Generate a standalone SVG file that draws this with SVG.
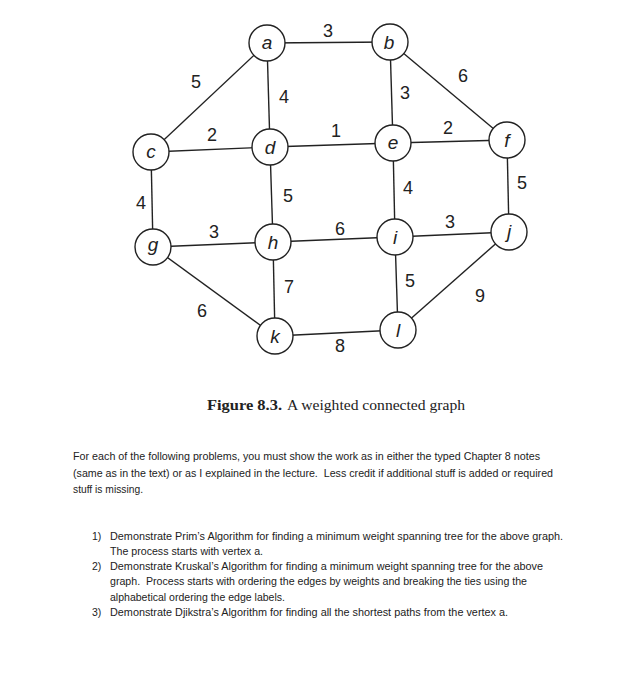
<svg xmlns="http://www.w3.org/2000/svg" width="642" height="684" viewBox="0 0 642 684">
<style>
.e{stroke:#222;stroke-width:1.4;fill:none}
.n circle{fill:#fff;stroke:#222;stroke-width:1.4}
.n text{font-family:"Liberation Sans",Arial,sans-serif;font-style:italic;font-size:19px;fill:#222;text-anchor:middle}
.w{font-family:"Liberation Sans",Arial,sans-serif;font-size:18px;fill:#222;text-anchor:middle}
.cap{font-family:"Liberation Serif","DejaVu Serif",serif;font-size:14px;fill:#222}
.p{font-family:"Liberation Sans",Arial,sans-serif;font-size:10.5px;fill:#222}
</style>
<rect width="642" height="684" fill="#fff"/>
<g id="connectors">
<line class="e" x1="267" y1="43" x2="390" y2="42"/>
<line class="e" x1="267" y1="43" x2="151" y2="152"/>
<line class="e" x1="267" y1="43" x2="270" y2="147"/>
<line class="e" x1="390" y1="42" x2="393" y2="143"/>
<line class="e" x1="390" y1="42" x2="507" y2="140"/>
<line class="e" x1="151" y1="152" x2="270" y2="147"/>
<line class="e" x1="151" y1="152" x2="153" y2="247"/>
<line class="e" x1="270" y1="147" x2="393" y2="143"/>
<line class="e" x1="270" y1="147" x2="273" y2="242"/>
<line class="e" x1="393" y1="143" x2="507" y2="140"/>
<line class="e" x1="393" y1="143" x2="395" y2="237"/>
<line class="e" x1="507" y1="140" x2="509" y2="232"/>
<line class="e" x1="153" y1="247" x2="273" y2="242"/>
<line class="e" x1="153" y1="247" x2="275" y2="336"/>
<line class="e" x1="273" y1="242" x2="395" y2="237"/>
<line class="e" x1="273" y1="242" x2="275" y2="336"/>
<line class="e" x1="395" y1="237" x2="509" y2="232"/>
<line class="e" x1="395" y1="237" x2="398" y2="330"/>
<line class="e" x1="509" y1="232" x2="398" y2="330"/>
<line class="e" x1="275" y1="336" x2="398" y2="330"/>
</g>
<g id="weights">
<text class="w" x="328" y="37">3</text>
<text class="w" x="196" y="88">5</text>
<text class="w" x="284" y="103">4</text>
<text class="w" x="212" y="141">2</text>
<text class="w" x="336" y="137">1</text>
<text class="w" x="405" y="99">3</text>
<text class="w" x="463" y="82">6</text>
<text class="w" x="448" y="134">2</text>
<text class="w" x="522" y="189">5</text>
<text class="w" x="141" y="209">4</text>
<text class="w" x="288" y="202">5</text>
<text class="w" x="408" y="194">4</text>
<text class="w" x="214" y="238">3</text>
<text class="w" x="340" y="235">6</text>
<text class="w" x="450" y="228">3</text>
<text class="w" x="289" y="293">7</text>
<text class="w" x="202" y="317">6</text>
<text class="w" x="410" y="287">5</text>
<text class="w" x="480" y="302">9</text>
<text class="w" x="340" y="352">8</text>
</g>
<g id="node-a" class="n"><circle cx="267" cy="43" r="18"/><text x="267" y="49">a</text></g>
<g id="node-b" class="n"><circle cx="390" cy="42" r="18"/><text x="389" y="49">b</text></g>
<g id="node-c" class="n"><circle cx="151" cy="152" r="18"/><text x="151" y="158">c</text></g>
<g id="node-d" class="n"><circle cx="270" cy="147" r="18"/><text x="270" y="154">d</text></g>
<g id="node-e" class="n"><circle cx="393" cy="143" r="18"/><text x="393" y="149">e</text></g>
<g id="node-f" class="n"><circle cx="507" cy="140" r="18"/><text x="507" y="147">f</text></g>
<g id="node-g" class="n"><circle cx="153" cy="247" r="18"/><text x="153" y="251">g</text></g>
<g id="node-h" class="n"><circle cx="273" cy="242" r="18"/><text x="273" y="249">h</text></g>
<g id="node-i" class="n"><circle cx="395" cy="237" r="18"/><text x="395" y="244">i</text></g>
<g id="node-j" class="n"><circle cx="509" cy="232" r="18"/><text x="509" y="238">j</text></g>
<g id="node-k" class="n"><circle cx="275" cy="336" r="18"/><text x="275" y="343">k</text></g>
<g id="node-l" class="n"><circle cx="398" cy="330" r="18"/><text x="398" y="337">l</text></g>
<g id="caption">
<text class="cap" x="207" y="410" font-weight="bold" textLength="75" lengthAdjust="spacingAndGlyphs">Figure 8.3.</text>
<text class="cap" x="287" y="410" textLength="178" lengthAdjust="spacingAndGlyphs">A weighted connected graph</text>
</g>
<g id="instructions">
<text class="p" x="73" y="460" textLength="467" lengthAdjust="spacingAndGlyphs">For each of the following problems, you must show the work as in either the typed Chapter 8 notes</text>
<text class="p" x="73" y="477" textLength="480" lengthAdjust="spacingAndGlyphs" xml:space="preserve">(same as in the text) or as I explained in the lecture.  Less credit if additional stuff is added or required</text>
<text class="p" x="73" y="493" textLength="70" lengthAdjust="spacingAndGlyphs">stuff is missing.</text>
<text class="p" x="92" y="540">1)</text>
<text class="p" x="110" y="540" textLength="453" lengthAdjust="spacingAndGlyphs">Demonstrate Prim’s Algorithm for finding a minimum weight spanning tree for the above graph.</text>
<text class="p" x="110" y="555" textLength="153" lengthAdjust="spacingAndGlyphs">The process starts with vertex a.</text>
<text class="p" x="92" y="570">2)</text>
<text class="p" x="110" y="570" textLength="433" lengthAdjust="spacingAndGlyphs">Demonstrate Kruskal’s Algorithm for finding a minimum weight spanning tree for the above</text>
<text class="p" x="110" y="585" textLength="417" lengthAdjust="spacingAndGlyphs" xml:space="preserve">graph.  Process starts with ordering the edges by weights and breaking the ties using the</text>
<text class="p" x="110" y="601" textLength="175" lengthAdjust="spacingAndGlyphs">alphabetical ordering the edge labels.</text>
<text class="p" x="92" y="616">3)</text>
<text class="p" x="110" y="616" textLength="398" lengthAdjust="spacingAndGlyphs">Demonstrate Djikstra’s Algorithm for finding all the shortest paths from the vertex a.</text>
</g>
</svg>
